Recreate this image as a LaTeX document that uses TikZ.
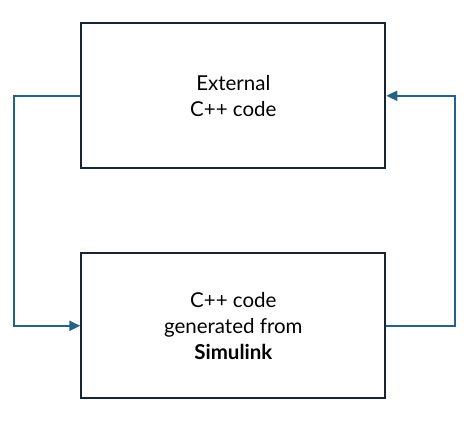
\documentclass[tikz,border=0pt]{standalone}
\usepackage{fontspec}
\setmainfont{Lato}
\definecolor{boxnavy}{RGB}{22, 36, 52}
\definecolor{linkteal}{RGB}{38, 98, 134}
\usepackage{tikz}
\usetikzlibrary{arrows.meta, positioning}

\begin{document}
\begin{tikzpicture}[x=1pt, y=1pt,
  codebox/.style={draw=boxnavy, line width=2pt, minimum width=304pt, minimum height=145pt,
    inner sep=0pt, align=center, font=\fontsize{20.5}{26}\selectfont},
  link/.style={draw=linkteal, line width=2pt, -{Triangle[length=11pt, width=10pt]}}]
  \useasboundingbox (0,0) rectangle (474,424);

  % Code blocks
  \node[codebox] (ext) at (233.3, 328.2) {External\\C++ code};
  \node[codebox] (gen) at (233.3, 98.2) {C++ code\\generated from\\\textbf{Simulink}};

  % Exchange loop
  \draw[link] (ext.west) -- ++(-66,0) |- (gen.west);
  \draw[link] (gen.east) -- ++(69,0) |- (ext.east);
\end{tikzpicture}
\end{document}
